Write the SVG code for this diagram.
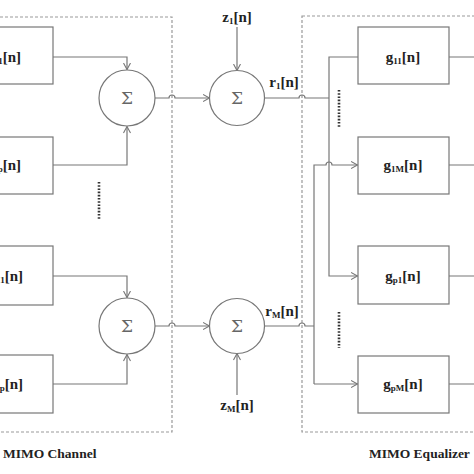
<svg xmlns="http://www.w3.org/2000/svg" width="474" height="474" viewBox="0 0 474 474">
<style>
.bx{fill:#fff;stroke:#777;stroke-width:1.2}
.sum{fill:#fff;stroke:#777;stroke-width:1.2}
.ln{fill:none;stroke:#777;stroke-width:1.2}
.dash{fill:none;stroke:#999;stroke-width:1.2;stroke-dasharray:3,2}
.dots{stroke:#333;stroke-width:2.6;stroke-dasharray:1.6,1.6}
.t{font-family:"Liberation Serif",serif;font-weight:bold;font-size:15px;fill:#222}
.s{font-size:9px}
.sig{font-family:"DejaVu Serif","Liberation Serif",serif;font-size:17px;fill:#666;text-anchor:middle}
.lab{font-family:"Liberation Serif",serif;font-weight:bold;font-size:13.5px;fill:#222}
</style>
<defs>
<marker id="ah" viewBox="-7 -4 8 8" refX="0" refY="0" markerWidth="8" markerHeight="8" markerUnits="userSpaceOnUse" orient="auto">
<path d="M-6.5,-3.5 L0,0 L-6.5,3.5" fill="none" stroke="#777" stroke-width="1.1"/>
</marker>
</defs>
<rect width="474" height="474" fill="#fff"/>
<g id="frames">
<rect class="dash" x="-10" y="17" width="182" height="415"/>
<rect class="dash" x="302" y="16" width="190" height="416"/>
</g>
<g id="connectors">
<path class="ln" d="M53,57 H127 V69.5" marker-end="url(#ah)"/>
<path class="ln" d="M53,165 H127 V126.5" marker-end="url(#ah)"/>
<path class="ln" d="M53,276 H127 V297.5" marker-end="url(#ah)"/>
<path class="ln" d="M53,384 H127 V354.5" marker-end="url(#ah)"/>
<path class="ln" d="M155,98 H169 A3,3 0 0 1 175,98 H209.5" marker-end="url(#ah)"/>
<path class="ln" d="M155,326 H169 A3,3 0 0 1 175,326 H209.5" marker-end="url(#ah)"/>
<path class="ln" d="M237,27 V70.5" marker-end="url(#ah)"/>
<path class="ln" d="M237,395 V353.5" marker-end="url(#ah)"/>
<path class="ln" d="M264.5,98 H299 A3,3 0 0 1 305,98 H329"/>
<path class="ln" d="M264.5,326 H299 A3,3 0 0 1 305,326 H314"/>
<path class="ln" d="M358,57 H329 V276 H357.5" marker-end="url(#ah)"/>
<path class="ln" d="M314,384 V165 H326 A3,3 0 0 1 332,165 H357.5" marker-end="url(#ah)"/>
<path class="ln" d="M314,384 H357.5" marker-end="url(#ah)"/>
<path class="ln" d="M449,57 H480 M449,165 H480 M449,276 H480 M449,384 H480"/>
<line class="dots" x1="99" y1="182" x2="99" y2="219"/>
<line class="dots" x1="339" y1="90" x2="339" y2="127"/>
<line class="dots" x1="339" y1="312" x2="339" y2="348"/>
</g>
<g id="h11"><rect class="bx" x="-20" y="27" width="73" height="57"/><text class="t" x="21" y="62" text-anchor="end">h<tspan class="s" dy="2">11</tspan><tspan dy="-2">[n]</tspan></text></g>
<g id="h1p"><rect class="bx" x="-20" y="137" width="73" height="57"/><text class="t" x="21" y="170" text-anchor="end">h<tspan class="s" dy="2">1p</tspan><tspan dy="-2">[n]</tspan></text></g>
<g id="hM1"><rect class="bx" x="-20" y="246" width="73" height="59"/><text class="t" x="23" y="281" text-anchor="end">h<tspan class="s" dy="2">M1</tspan><tspan dy="-2">[n]</tspan></text></g>
<g id="hMp"><rect class="bx" x="-20" y="355" width="73" height="58"/><text class="t" x="23" y="389" text-anchor="end">h<tspan class="s" dy="2">Mp</tspan><tspan dy="-2">[n]</tspan></text></g>
<g id="sum1"><circle class="sum" cx="127" cy="98" r="28"/><text class="sig" x="127" y="104">Σ</text></g>
<g id="sum2"><circle class="sum" cx="127" cy="326" r="28"/><text class="sig" x="127" y="332">Σ</text></g>
<g id="sum3"><circle class="sum" cx="237" cy="98" r="27.5"/><text class="sig" x="237" y="104">Σ</text></g>
<g id="sum4"><circle class="sum" cx="237" cy="326" r="27.5"/><text class="sig" x="237" y="332">Σ</text></g>
<g id="z1"><text class="t" x="237" y="22" text-anchor="middle">z<tspan class="s" dy="2">1</tspan><tspan dy="-2">[n]</tspan></text></g>
<g id="zM"><text class="t" x="237" y="410" text-anchor="middle">z<tspan class="s" dy="2">M</tspan><tspan dy="-2">[n]</tspan></text></g>
<g id="r1"><text class="t" x="284" y="87" text-anchor="middle">r<tspan class="s" dy="2">1</tspan><tspan dy="-2">[n]</tspan></text></g>
<g id="rM"><text class="t" x="282" y="316" text-anchor="middle">r<tspan class="s" dy="2">M</tspan><tspan dy="-2">[n]</tspan></text></g>
<g id="g11"><rect class="bx" x="358" y="27" width="91" height="57"/><text class="t" x="403" y="62" text-anchor="middle">g<tspan class="s" dy="2">11</tspan><tspan dy="-2">[n]</tspan></text></g>
<g id="g1M"><rect class="bx" x="358" y="137" width="91" height="57"/><text class="t" x="403" y="170" text-anchor="middle">g<tspan class="s" dy="2">1M</tspan><tspan dy="-2">[n]</tspan></text></g>
<g id="gp1"><rect class="bx" x="358" y="246" width="91" height="58"/><text class="t" x="403" y="281" text-anchor="middle">g<tspan class="s" dy="2">p1</tspan><tspan dy="-2">[n]</tspan></text></g>
<g id="gpM"><rect class="bx" x="358" y="356" width="91" height="57"/><text class="t" x="403" y="389" text-anchor="middle">g<tspan class="s" dy="2">pM</tspan><tspan dy="-2">[n]</tspan></text></g>
<text class="lab" x="3" y="458">MIMO Channel</text>
<text class="lab" x="369" y="458">MIMO Equalizer</text>
</svg>
